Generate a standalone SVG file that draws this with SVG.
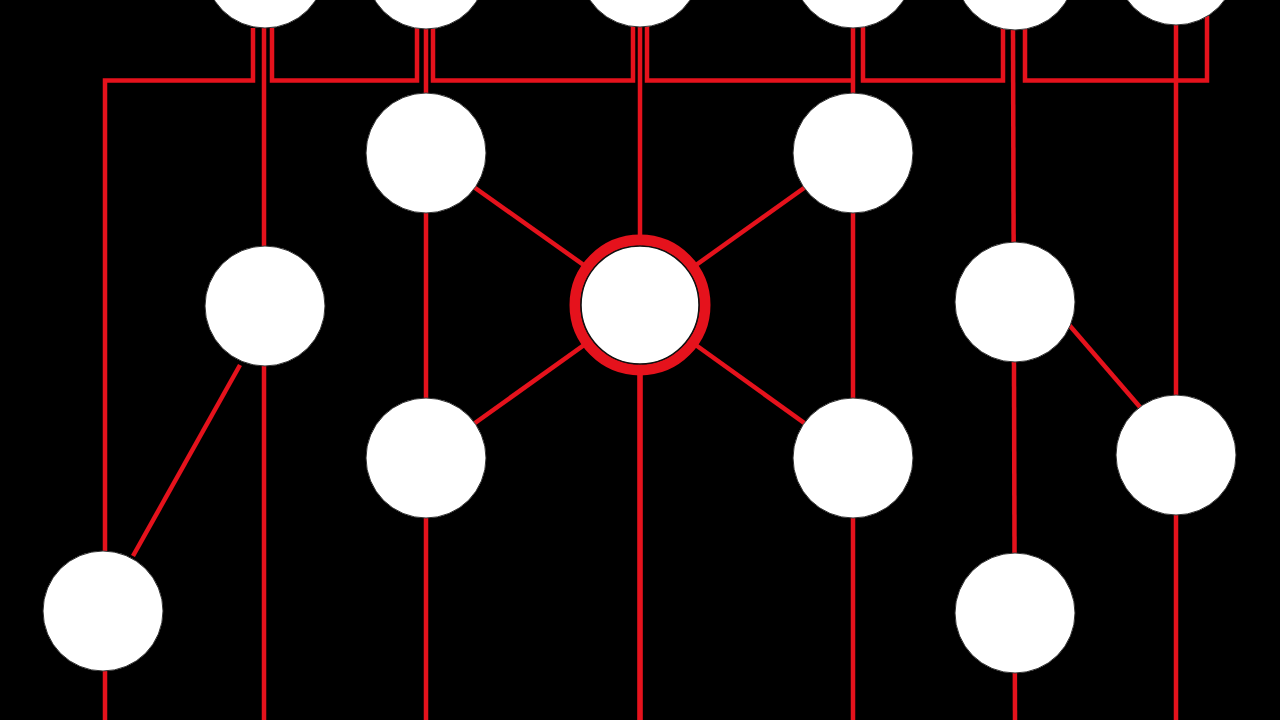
<svg xmlns="http://www.w3.org/2000/svg" width="1280" height="720" viewBox="0 0 1280 720">
<style>
.bg{fill:#000}
.w{stroke:#e5121c;stroke-width:4.5;fill:none;stroke-linecap:butt;stroke-linejoin:miter}
.n{fill:#fff;stroke:#333;stroke-width:1}
.ring{fill:none;stroke:#e5121c;stroke-width:11}
</style>
<rect class="bg" x="0" y="0" width="1280" height="720"/>
<g id="connectors">
<path class="w" d="M253,28 V80.5 H105 V720"/>
<path class="w" d="M272,28 V80.5 H417 V28"/>
<path class="w" d="M433,28 V80.5 H633 V26"/>
<path class="w" d="M647,26 V80.5 H853"/>
<path class="w" d="M863,26 V80.5 H1003 V28"/>
<path class="w" d="M1025,28 V80.5 H1207 V16"/>
<path class="w" d="M264,28 V720"/>
<path class="w" d="M426,28 V720"/>
<path class="w" d="M640,26 V720"/>
<path class="w" d="M640,370 V720" style="stroke-width:5.5"/>
<path class="w" d="M853,26 V720"/>
<path class="w" d="M1013,28 L1015,720"/>
<path class="w" d="M1176,25 V720"/>
<path class="w" d="M240,365 L133,556"/>
<path class="w" d="M640,305 L426,153"/>
<path class="w" d="M640,305 L853,153"/>
<path class="w" d="M640,305 L426,458"/>
<path class="w" d="M640,305 L853,458"/>
<path class="w" d="M1058,312 L1152,421"/>
</g>
<g id="top1"><circle class="n" cx="265" cy="-32" r="60"/></g>
<g id="top2"><circle class="n" cx="426" cy="-31" r="60"/></g>
<g id="top3"><circle class="n" cx="640" cy="-33" r="60"/></g>
<g id="top4"><circle class="n" cx="853" cy="-32" r="60"/></g>
<g id="top5"><circle class="n" cx="1015" cy="-30" r="60"/></g>
<g id="top6"><circle class="n" cx="1176" cy="-35" r="60"/></g>
<g id="n2a"><circle class="n" cx="426" cy="153" r="60"/></g>
<g id="n2b"><circle class="n" cx="853" cy="153" r="60"/></g>
<g id="n3a"><circle class="n" cx="265" cy="306" r="60"/></g>
<g id="center"><circle class="ring" cx="640" cy="305" r="65"/><circle class="n" cx="640" cy="305" r="59" style="stroke:#111;stroke-width:1.5"/></g>
<g id="n3c"><circle class="n" cx="1015" cy="302" r="60"/></g>
<g id="n4a"><circle class="n" cx="426" cy="458" r="60"/></g>
<g id="n4b"><circle class="n" cx="853" cy="458" r="60"/></g>
<g id="n4c"><circle class="n" cx="1176" cy="455" r="60"/></g>
<g id="n5a"><circle class="n" cx="103" cy="611" r="60"/></g>
<g id="n5b"><circle class="n" cx="1015" cy="613" r="60"/></g>
</svg>
